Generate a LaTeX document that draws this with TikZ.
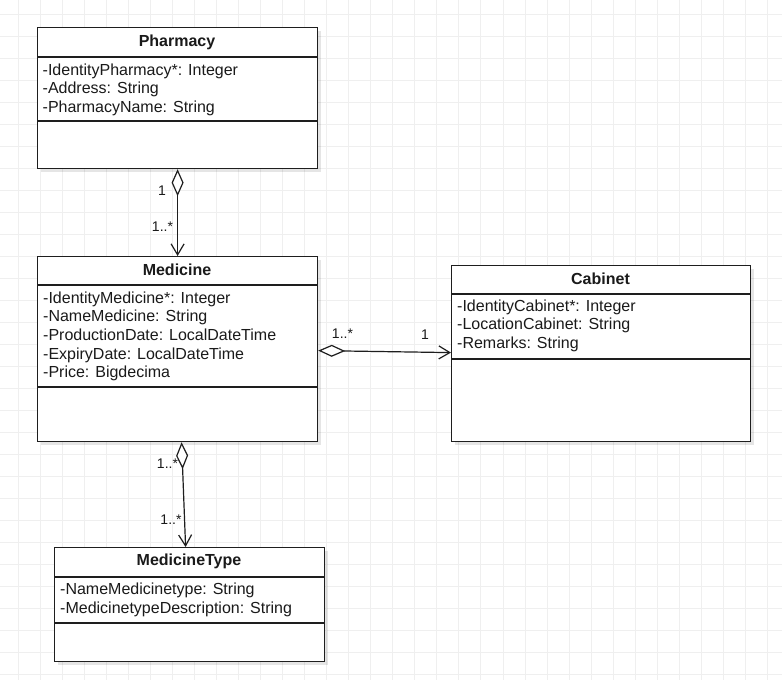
\documentclass[tikz,border=0pt]{standalone}
\usepackage{fontspec}
\setmainfont{Liberation Sans}
\usetikzlibrary{arrows.meta,shadows}
\definecolor{gridc}{HTML}{EFEFEF}
\definecolor{ink}{HTML}{1E1E1E}
\definecolor{txt}{HTML}{1A1A1A}
\begin{document}
\begin{tikzpicture}[x=1pt,y=-1pt,
  cls/.style={draw=ink, line width=1.2pt, fill=white, rectangle, inner sep=0pt, anchor=north west,
    drop shadow={shadow xshift=3pt, shadow yshift=-3pt, fill=black, opacity=0.10}},
  sepline/.style={draw=ink, line width=1.2pt},
  ttl/.style={font=\fontsize{16}{18.6}\selectfont\bfseries, text=txt, inner sep=0pt, anchor=base},
  attr/.style={font=\fontsize{16}{18.6}\selectfont, text=txt, inner sep=0pt, anchor=base west},
  mult/.style={font=\fontsize{14}{16}\selectfont, text=txt, inner sep=0pt},
  conn/.style={draw=ink, line width=1.2pt},
  agg/.style={conn, {Diamond[open, fill=white, length=27pt, width=12pt, line width=1.2pt]}-{Straight Barb[length=11pt, width=13pt, line width=1.2pt]}}
]
\useasboundingbox (0,0) rectangle (782,680);
\fill[white] (0,0) rectangle (782,680);
% grid
\foreach \k in {0,...,34} \draw[gridc, line width=0.9pt] ({18.3+22.03*\k},0) -- ({18.3+22.03*\k},680);
\foreach \k in {0,...,30} \draw[gridc, line width=0.9pt] (0,{14.0+22.03*\k}) -- (782,{14.0+22.03*\k});

% Pharmacy
\node[cls, minimum width=280pt, minimum height=141pt] (ph) at (37,27) {};
\draw[sepline] (37,57) -- (317,57);
\draw[sepline] (37,121) -- (317,121);
\node[ttl] (phT) at (177,46.7) {Pharmacy};
\node[attr] (ph1) at (42.5,75.3) {-IdentityPharmacy*: Integer};
\node[attr] (ph2) at (42.5,93.7) {-Address: String};
\node[attr] (ph3) at (42.5,112.0) {-PharmacyName: String};

% Medicine
\node[cls, minimum width=280pt, minimum height=185pt] (med) at (37,256) {};
\draw[sepline] (37,285) -- (317,285);
\draw[sepline] (37,387) -- (317,387);
\node[ttl] (medT) at (177,275.7) {Medicine};
\node[attr] (med1) at (43,303.0) {-IdentityMedicine*: Integer};
\node[attr] (med2) at (43,321.7) {-NameMedicine: String};
\node[attr] (med3) at (43,340.4) {-ProductionDate: LocalDateTime};
\node[attr] (med4) at (43,359.1) {-ExpiryDate: LocalDateTime};
\node[attr] (med5) at (43,377.8) {-Price: Bigdecima};

% Cabinet
\node[cls, minimum width=299pt, minimum height=176pt] (cab) at (451,265) {};
\draw[sepline] (451,294) -- (750,294);
\draw[sepline] (451,359) -- (750,359);
\node[ttl] (cabT) at (600.5,284.3) {Cabinet};
\node[attr] (cab1) at (457,311.0) {-IdentityCabinet*: Integer};
\node[attr] (cab2) at (457,329.6) {-LocationCabinet: String};
\node[attr] (cab3) at (457,348.2) {-Remarks: String};

% MedicineType
\node[cls, minimum width=270pt, minimum height=114pt] (mt) at (54,547) {};
\draw[sepline] (54,577) -- (324,577);
\draw[sepline] (54,623) -- (324,623);
\node[ttl] (mtT) at (189,565.7) {MedicineType};
\node[attr] (mt1) at (60,594.3) {-NameMedicinetype: String};
\node[attr] (mt2) at (60,613.0) {-MedicinetypeDescription: String};

% connectors
\draw[agg] (ph.south) -- (med.north);
\draw[agg] ([yshift=-1.5pt]med.east) -- ([yshift=1pt]cab.west);
\draw[agg] ([xshift=4pt]med.south) -- ([xshift=-4pt]mt.north);

% multiplicities
\node[mult] (m1) at (162,191) {1};
\node[mult] (m2) at (162.5,227) {1..*};
\node[mult] (m3) at (342.5,334) {1..*};
\node[mult] (m4) at (425,335) {1};
\node[mult] (m5) at (167.5,464) {1..*};
\node[mult] (m6) at (171,520) {1..*};
\end{tikzpicture}
\end{document}
